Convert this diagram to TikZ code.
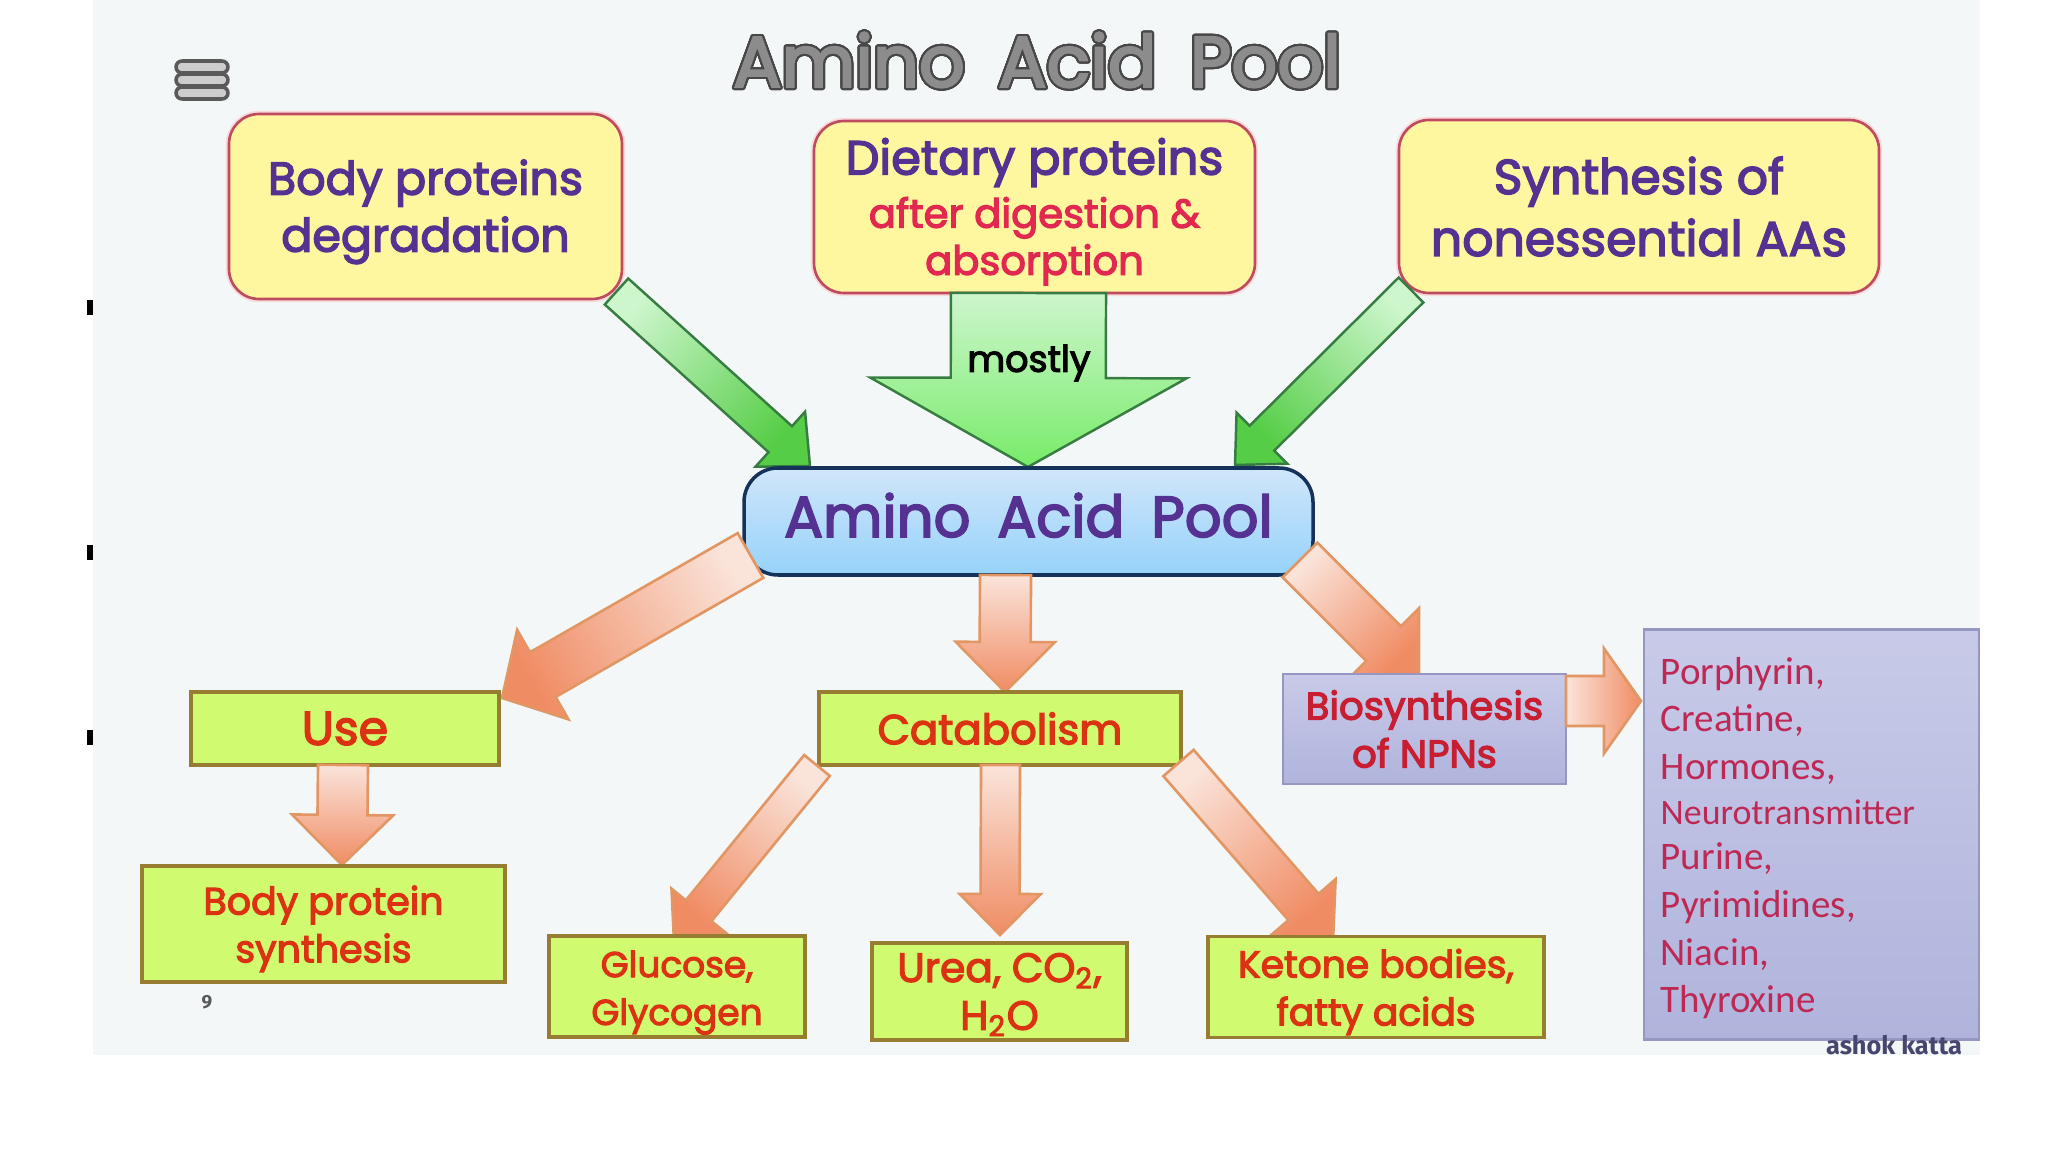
\documentclass[tikz,border=0pt]{standalone}
\usepackage{fontspec}
\usepackage{contour}
\usetikzlibrary{calc}
\setmainfont{Poppins}[FakeBold=3]
\newfontfamily\listfont{Carlito}
\newfontfamily\plainsans{Fira Sans}
\pgfdeclarelayer{la}\pgfdeclarelayer{lb}\pgfdeclarelayer{lc}\pgfdeclarelayer{ld}\pgfdeclarelayer{le}\pgfdeclarelayer{lf}\pgfdeclarelayer{lg}
\pgfsetlayers{la,lb,lc,ld,le,lf,lg,main}
\definecolor{pagebg}{RGB}{244,247,248}
\definecolor{ybox}{RGB}{255,247,160}
\definecolor{yedge}{RGB}{190,75,95}
\definecolor{gbox}{RGB}{208,250,112}
\definecolor{gedge}{RGB}{150,125,50}
\definecolor{vedge}{RGB}{150,150,195}
\definecolor{vtop}{RGB}{200,202,232}
\definecolor{vbot}{RGB}{176,180,220}
\definecolor{grape}{RGB}{85,50,145}
\definecolor{rosered}{RGB}{225,40,80}
\definecolor{boxred}{RGB}{220,50,20}
\definecolor{bioRed}{RGB}{200,30,50}
\definecolor{listred}{RGB}{190,40,85}
\definecolor{gA}{RGB}{205,246,205}
\definecolor{gB}{RGB}{85,205,70}
\definecolor{gC}{RGB}{120,235,105}
\definecolor{gline}{RGB}{55,125,65}
\definecolor{oA}{RGB}{250,228,218}
\definecolor{oB}{RGB}{240,140,100}
\definecolor{oline}{RGB}{225,150,100}
\tikzset{
  sz/.style 2 args={minimum width=#1*0.01cm,minimum height=#2*0.01cm,inner sep=0pt,align=center},
  yellowbox/.style={draw=yedge,line width=0.75pt,fill=ybox,rounded corners=0.3cm,
     preaction={draw=pink,line width=1.8pt,opacity=.5}},
  limebox/.style={draw=gedge,line width=0.9pt,fill=gbox},
  violetbox/.style={draw=vedge,line width=0.8pt,top color=vtop,bottom color=vbot},
  poolbox/.style={draw={rgb,255:red,20;green,50;blue,90},line width=1pt,rounded corners=0.34cm,
     top color={rgb,255:red,208;green,230;blue,250},bottom color={rgb,255:red,150;green,210;blue,250}},
  greenarrow/.style={draw=gline,line width=0.7pt,top color=gA,bottom color=gB,line join=miter},
  orangearrow/.style={draw=oline,line width=0.75pt,top color=oA,bottom color=oB,line join=miter},
  tick/.style={fill=black,draw=none},
}
\newcommand\fsz[2]{\fontsize{#1}{#2}\selectfont}
\newcommand\topgap[1]{\rule{0pt}{#1}}
\newcommand\botgap[1]{\rule[-#1]{0pt}{0pt}}
\newcommand\blockarrow[6]{%
  \coordinate (ba-t) at #2; \coordinate (ba-h) at #3;
  \coordinate (ba-n) at ($(ba-h)!#6*0.28453pt!(ba-t)$);
  \path[#1] ($(ba-t)!#4*0.14226pt!90:(ba-h)$) -- ($(ba-n)!#4*0.14226pt!90:(ba-h)$)
    -- ($(ba-n)!#5*0.14226pt!90:(ba-h)$) -- (ba-h)
    -- ($(ba-n)!#5*0.14226pt!-90:(ba-h)$) -- ($(ba-n)!#4*0.14226pt!-90:(ba-h)$)
    -- ($(ba-t)!#4*0.14226pt!-90:(ba-h)$) -- cycle;}
\contournumber{32}
\begin{document}
\begin{tikzpicture}[x=0.01cm,y=-0.01cm]
\useasboundingbox (0,0) rectangle (2048,1152);
\begin{pgfonlayer}{la}
\fill[pagebg] (93,0) rectangle (1980,1055);
\fill[tick] (87,300) rectangle (93,315);
\fill[tick] (87,545) rectangle (93,560);
\fill[tick] (87,730) rectangle (93,745);
\foreach \yy in {60,73,86}{
  \draw[draw={rgb,255:red,90;green,90;blue,90},fill={rgb,255:red,205;green,205;blue,205},line width=1pt,rounded corners=0.06cm]
    (176,\yy+1) rectangle (228,\yy+13);}
\node[font=\fsz{20.4}{26}] (title) at (1037,61) {\contourlength{0.6pt}\contour{black!72}{\textcolor{black!45}{Amino\hspace{0.2em} Acid\hspace{0.2em} Pool}}};
\node[sz={393}{185},yellowbox,text=grape,font=\fsz{13.1}{16.2}] (body) at (425.5,206.5) {\topgap{13pt}Body proteins\\degradation};
\node[sz={441}{172},yellowbox,text=grape,font=\fsz{13.6}{15.1}] (diet) at (1034.5,207)
  {\topgap{13pt}Dietary proteins\\{\color{rosered}\fsz{11.4}{13.4}\selectfont after digestion \&}\\[-1.7pt]{\color{rosered}\fsz{11.4}{13.4}\selectfont absorption}};
\node[sz={480}{173},yellowbox,text=grape,font=\fsz{13.9}{17.6}] (synth) at (1639,206.5) {Synthesis of\\nonessential AAs};
\end{pgfonlayer}
\begin{pgfonlayer}{lc}
\node[sz={569}{107},poolbox,text=grape,font=\fsz{16.4}{22}] (pool) at (1028.5,521.5) {Amino\hspace{0.2em} Acid\hspace{0.2em} Pool\botgap{3.7pt}};
\end{pgfonlayer}
\begin{pgfonlayer}{le}
\node[sz={308}{73},limebox,text=boxred,font=\fsz{13.5}{17}] (use) at (345,728.5) {Use};
\node[sz={362}{73},limebox,text=boxred,font=\fsz{11.9}{17}] (cat) at (1000,728.5) {Catabolism};
\node[sz={283}{110},violetbox,text=bioRed,font=\fsz{11}{13.6}] (bio) at (1424.5,729) {Biosynthesis\\of NPNs};
\end{pgfonlayer}
\begin{pgfonlayer}{lg}
\node[sz={363}{116},limebox,text=boxred,font=\fsz{10.8}{13.6}] (bps) at (323.5,924) {\topgap{11pt}Body protein\\synthesis};
\node[sz={256}{101},limebox,text=boxred,font=\fsz{10.2}{13.6}] (glu) at (677,986.5) {\topgap{11pt}Glucose,\\Glycogen};
\node[sz={255}{97},limebox,text=boxred,font=\fsz{11.6}{13.6}] (urea) at (999.5,991.5) {\topgap{10pt}Urea, CO\textsubscript{2},\\H\textsubscript{2}O};
\node[sz={336}{101},limebox,text=boxred,font=\fsz{10.7}{13.6}] (ket) at (1376,987) {\topgap{11pt}Ketone bodies,\\fatty acids};
\node[sz={335}{410},violetbox] (list) at (1811.5,834.5) {};
\foreach \nm/\yy/\tx in {l1/684/{Porphyrin,},l2/731/{Creatine,},l3/779/{Hormones,},l5/869/{Purine,},l6/917/{Pyrimidines,},l7/965/{Niacin,},l8/1012/{Thyroxine}}{
  \node[anchor=base west,inner sep=0pt,text=listred,font=\listfont\fsz{11.1}{12}] (\nm) at (1660,\yy) {\tx};}
\node[anchor=base west,inner sep=0pt,text=listred,font=\listfont\fsz{10.2}{12}] (l4) at (1660,824) {Neurotransmitter};
\node[font=\plainsans\bfseries\fsz{5.4}{6},text=black!65] (pagenum) at (207,1002) {9};
\node[font=\plainsans\bfseries\fsz{7.2}{8},text={rgb,255:red,70;green,70;blue,110}] (mark) at (1894,1045) {ashok katta};
\node[font=\fsz{10.4}{13},text=black] (mostly) at (1029,363) {mostly};
\end{pgfonlayer}
\begin{pgfonlayer}{lb}
\blockarrow{greenarrow,shading angle=48}{($(body)+(191,85)$)}{($(pool)+(-218.5,-55.5)$)}{35}{74}{40}
\blockarrow{greenarrow,shading angle=0,bottom color=gC}{($(diet)+(-6,86)$)}{($(pool)+(-0.5,-54.5)$)}{155}{316}{89}
\blockarrow{greenarrow,shading angle=-45}{($(synth)+(-228,83.5)$)}{($(pool)+(206.5,-56.5)$)}{35}{72}{38}
\end{pgfonlayer}
\begin{pgfonlayer}{ld}
\blockarrow{orangearrow,shading angle=-60}{($(pool)+(-278,34)$)}{($(use)+(157,-30.5)$)}{51.5}{103}{47}
\blockarrow{orangearrow,shading angle=0}{($(pool)+(-23,53.5)$)}{($(cat)+(5,-36.5)$)}{51}{99}{50}
\blockarrow{orangearrow,shading angle=45}{($(pool)+(271.5,38.5)$)}{($(bio)+(-5.5,-50)$)}{49}{100}{50}
\end{pgfonlayer}
\begin{pgfonlayer}{lf}
\blockarrow{orangearrow,shading angle=0}{($(use)+(-2,36.5)$)}{($(bps)+(18.5,-59)$)}{50}{101}{50}
\blockarrow{orangearrow,shading angle=-39}{($(cat)+(-183,37)$)}{($(glu)+(-3,-45.5)$)}{33}{70}{39}
\blockarrow{orangearrow,shading angle=0}{($(cat)+(0.5,36.5)$)}{($(urea)+(0.5,-56.5)$)}{39}{81}{41}
\blockarrow{orangearrow,shading angle=41}{($(cat)+(178.5,34.5)$)}{($(ket)+(-43,-46)$)}{40}{85}{45}
\blockarrow{orangearrow,shading angle=90}{($(bio)+(141.5,-28)$)}{($(list)+(-170.5,-133.5)$)}{50}{105}{37}
\end{pgfonlayer}
\end{tikzpicture}
\end{document}
